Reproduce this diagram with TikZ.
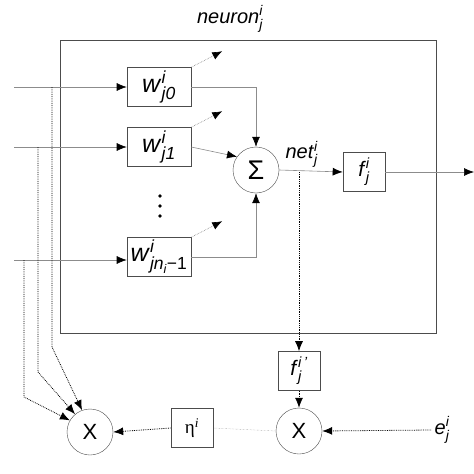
\documentclass[tikz,border=0pt]{standalone}
\usepackage{amsmath}
\usepackage{fontspec}
\setmainfont{Liberation Sans}
\newfontfamily\serifgreek{Liberation Serif}
\usetikzlibrary{arrows.meta}

\tikzset{
  wbox/.style={draw=black!70, semithick, minimum width=64pt, minimum height=39pt, inner sep=0pt, font=\fontsize{25}{25}\selectfont},
  sbox/.style={draw=black!70, semithick, minimum width=42pt, minimum height=39pt, inner sep=0pt, font=\fontsize{21}{21}\selectfont},
  op/.style={draw=black!70, circle, minimum size=46pt, inner sep=0pt, font=\fontsize{22}{22}\selectfont},
  sig/.style={black!45, semithick, -{Latex[length=10pt,width=8pt,black]}},
  lrn/.style={densely dotted, thick, -{Latex[length=10pt,width=8pt,black]}},
  lbl/.style={font=\fontsize{20}{20}\selectfont}
}

\begin{document}
\begin{tikzpicture}[x=1pt,y=-1pt]
    \useasboundingbox (0,0) rectangle (474,474);
    % the neuron
    \draw [black!70, thick] (60,40) rectangle (436,333);
    \node [lbl] (neu) at (230,19) {\textit{neuron}$^{\textit{i}}_{\textit{j}}$};
    % weights
    \node [wbox] (w0) at (159,87) {\textit{w}$^{\textit{i}}_{\textit{j0}}$};
    \node [wbox] (w1) at (159,147) {\textit{w}$^{\textit{i}}_{\textit{j1}}$};
    \node [wbox] (wn) at (159,257) {\textit{w}$^{\textit{i}}_{\textit{jn}_{\textit{i}}\text{−1}}$};
    \fill (160,196) circle (1.8);
    \fill (160,206) circle (1.8);
    \fill (160,216) circle (1.8);
    % summation and activation
    \node [op, font=\fontsize{27}{27}\selectfont] (sum) at (256,170) {Σ};
    \node [lbl, above right] (net) at (282,171) {\textit{net}$^{\textit{i}}_{\textit{j}}$};
    \node [sbox] (f) at (364,172) {\textit{f}$^{\textit{i}}_{\textit{j}}$};
    % learning part
    \node [sbox] (fd) at (299,371) {\textit{f}$^{\textit{i}\,\textit{'}}_{\textit{j}}$};
    \node [op] (m2) at (299,431) {X};
    \node [op] (m1) at (90,432) {X};
    \node [sbox, font=\fontsize{19}{19}\selectfont] (eta) at (192,428) {\serifgreek η$^{\textit{i}}$};
    \node [lbl] (e) at (442,430) {\textit{e}$^{\textit{i}}_{\textit{j}}$};
    % input ends
    \coordinate (x0) at (14,87);
    \coordinate (x1) at (14,147);
    \coordinate (xn) at (14,260);
    \coordinate (b0) at (52,87);
    \coordinate (b1) at (38,147);
    \coordinate (bn) at (24,260);
    \coordinate (tap) at (299,172);
    \coordinate (out) at (474,172);
    % signal lines
    \draw [sig] (x0) -- (w0.west);
    \draw [sig] (x1) -- (w1.west);
    \draw [sig] (xn) -- (wn.west |- xn);
    \draw [sig] (w0.east) -| (sum.north);
    \draw [sig] (w1.east) -- (sum.145);
    \draw [sig] (wn.east) -| (sum.south);
    \draw [sig] (sum.east) -- (f.west);
    \draw [sig] (f.east) -- (out);
    % weight updates
    \draw [lrn, black!50, semithick] (w0.north east) -- ++(31,-16);
    \draw [lrn, black!50, semithick] (w1.north east) -- ++(31,-16);
    \draw [lrn, black!50, semithick] (wn.north east) -- ++(31,-16);
    % learning signals
    \draw [lrn] (b0) -- (52,347) -- (m1.110);
    \draw [lrn] (b1) -- (38,372) -- (m1.130);
    \draw [lrn] (bn) -- (24,397) -- (m1.150);
    \draw [lrn] (tap) -- (fd.north);
    \draw [lrn] (fd.south) -- (m2.north);
    \draw [lrn] (e.west) -- (m2.east);
    \draw [densely dotted, black!45] (m2.west) -- (eta.east);
    \draw [lrn] (eta.west) -- (m1.east);
\end{tikzpicture}
\end{document}
